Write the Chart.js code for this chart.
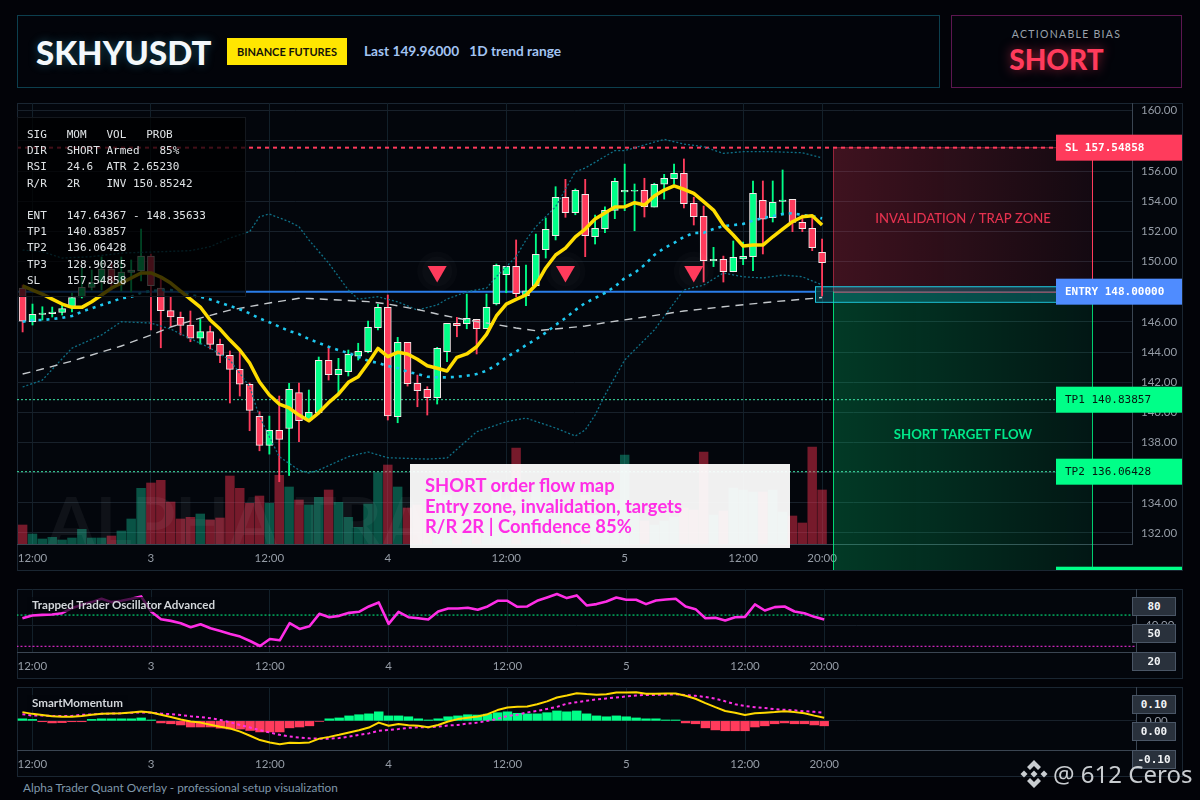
<!DOCTYPE html>
<html>
<head>
<meta charset="utf-8">
<title>SKHYUSDT</title>
<script src="https://cdn.jsdelivr.net/npm/chart.js@4"></script>
<style>
  html, body { margin: 0; padding: 0; background: #020308; }
  body { position: relative; width: 1200px; height: 800px; overflow: hidden; font-family: Lato, sans-serif; color: #ccc; }
  .abs { position: absolute; white-space: pre; }
  .frame { position: absolute; box-sizing: border-box; background: #03060c; border: 1px solid #1a2632; }
  canvas { position: absolute; display: block; }
  .tag { position: absolute; box-sizing: border-box; left: 1132px; width: 44px; height: 19px; background: #29313c; border: 1px solid #4a5666; color: #f2f4f6; font: bold 11px/17px "DejaVu Sans Mono", monospace; text-align: center; }
  .plabel { position: absolute; left: 27px; padding: 0 5px; height: 15px; background: rgba(3, 6, 12, 0.7); color: #d2d6da; font: bold 11.6px/15px Lato, sans-serif; white-space: pre; }
</style>
</head>
<body>
<div class="frame" style="left:17px;top:15px;width:923px;height:73px;border-color:#0c3f4e;background:#02040a"></div>
<div class="abs" id="title" style="left:36px;top:29px;font:900 33px/46px Lato,sans-serif;color:#f4f8fb;text-shadow:0 0 10px rgba(70,200,230,.35)">SKHYUSDT</div>
<div class="abs" style="left:227px;top:38px;width:120px;height:27px;background:#ffe600;color:#15130a;font:bold 11px/27px Lato,sans-serif;text-align:center">BINANCE FUTURES</div>
<div class="abs" style="left:364px;top:42px;color:#a3c4f3;font:bold 13.7px/18px Lato,sans-serif">Last 149.96000   1D trend range</div>
<div class="frame" style="left:951px;top:15px;width:231px;height:73px;border-color:#5c1650;background:#02040a"></div>
<div class="abs" style="left:951px;width:231px;top:27px;text-align:center;color:#9aa2ac;font:10.5px/14px Lato,sans-serif;letter-spacing:1.3px">ACTIONABLE BIAS</div>
<div class="abs" style="left:951px;width:211px;top:40px;text-align:center;color:#ff3b5c;font:900 28px/38px Lato,sans-serif;text-shadow:0 0 12px rgba(255,59,92,.6)">SHORT</div>

<div class="frame" style="left:17px;top:103px;width:1166px;height:468px"></div>
<canvas id="mainChart" width="1165" height="467" style="left:17px;top:103px;width:1165px;height:467px"></canvas>
<div class="abs" style="left:17px;top:117px;width:229px;height:180px;box-sizing:border-box;padding:9px 0 0 9px;background:rgba(0,0,0,.74);border:1px solid #14181e;color:#dfe3e6;font:11px/16.2px 'DejaVu Sans Mono',monospace">SIG   MOM   VOL   PROB
DIR   SHORT Armed   85%
RSI   24.6  ATR 2.65230
R/R   2R    INV 150.85242

ENT   147.64367 - 148.35633
TP1   140.83857
TP2   136.06428
TP3   128.90285
SL    157.54858</div>
<div class="abs" style="left:410px;top:464px;width:380px;height:84px;background:rgba(255,255,255,.94)"></div>
<div class="abs" style="left:425px;top:475px;color:#ff2ee6;font:bold 18.4px/20.5px Lato,sans-serif">SHORT order flow map
Entry zone, invalidation, targets
R/R 2R | Confidence 85%</div>

<div class="frame" style="left:17px;top:589px;width:1166px;height:90px"></div>
<canvas id="oscChart" width="1165" height="89" style="left:17px;top:589px;width:1165px;height:89px"></canvas>
<div class="plabel" style="top:597px">Trapped Trader Oscillator Advanced</div>
<div class="tag" style="top:597px">80</div>
<div class="tag" style="top:624px">50</div>
<div class="tag" style="top:652px">20</div>

<div class="frame" style="left:17px;top:687px;width:1166px;height:90px"></div>
<canvas id="momChart" width="1165" height="89" style="left:17px;top:687px;width:1165px;height:89px"></canvas>
<div class="plabel" style="top:695px">SmartMomentum</div>
<div class="tag" style="top:695px">0.10</div>
<div class="tag" style="top:722px">0.00</div>
<div class="tag" style="top:750px">-0.10</div>

<div class="abs" style="left:23px;top:780px;color:#7f97aa;font:11.8px/15px Lato,sans-serif">Alpha Trader Quant Overlay - professional setup visualization</div>
<svg class="abs" style="left:1020px;top:760px" width="28" height="28" viewBox="0 0 28 28" fill="#c9cdd1">
  <polygon points="14,0 21,7 18,10 14,6 10,10 7,7"/>
  <polygon points="14,28 21,21 18,18 14,22 10,18 7,21"/>
  <polygon points="4,10.5 7.5,14 4,17.5 0.5,14"/>
  <polygon points="24,10.5 27.5,14 24,17.5 20.5,14"/>
  <polygon points="14,10.5 17.5,14 14,17.5 10.5,14"/>
</svg>
<div class="abs" style="left:1053px;top:757px;color:#c9cdd1;font:24px/34px 'Noto Sans',sans-serif">@ 612 Ceros</div>

<script>
// candles, one per hour
const opens = [
  148.24, 146.01, 146.49, 146.55, 146.62, 147.02, 147.65, 148.28, 148.61, 149.50,
  148.44, 149.27, 149.37, 150.36, 148.24, 146.74, 146.30, 145.79, 144.91, 145.35,
  144.51, 143.78, 142.85, 141.86, 139.74, 137.81, 138.81, 138.93, 141.31, 139.49,
  139.97, 143.45, 142.49, 142.69, 143.73, 144.02, 145.61, 146.96, 139.71, 144.64,
  141.92, 141.53, 140.97, 144.02, 145.90, 145.88, 146.17, 145.54, 147.18, 149.12,
  149.68, 147.73, 148.40, 150.78, 151.71, 154.26, 153.24, 154.46, 151.64, 152.17,
  153.39, 154.61, 154.67, 154.72, 153.61, 155.12, 155.49, 155.85, 153.86, 152.99,
  150.05, 150.15, 149.32, 150.18, 150.32, 154.06, 152.90, 153.99, 154.12, 152.60,
  152.20, 150.61,
]
const highs = [
  148.44, 147.18, 147.00, 146.98, 147.12, 147.91, 149.57, 149.44, 150.30, 149.97,
  150.30, 150.10, 152.15, 150.50, 148.97, 147.66, 146.65, 146.72, 146.19, 145.72,
  144.86, 144.07, 144.02, 141.94, 140.04, 139.75, 141.08, 141.92, 141.94, 141.48,
  143.67, 144.31, 143.58, 144.13, 144.58, 146.05, 147.18, 147.78, 144.97, 144.64,
  142.47, 141.70, 144.31, 145.90, 146.30, 147.84, 146.17, 147.84, 149.83, 149.68,
  151.43, 149.77, 151.82, 152.88, 154.96, 155.45, 154.81, 155.45, 153.08, 153.63,
  155.52, 156.46, 155.14, 155.52, 155.19, 155.78, 156.46, 156.80, 154.26, 153.68,
  150.94, 150.36, 151.36, 151.29, 155.34, 155.34, 155.34, 156.07, 154.12, 153.08,
  152.97, 151.49,
]
const lows = [
  145.33, 145.79, 146.12, 146.32, 146.45, 146.65, 147.58, 148.11, 148.11, 148.11,
  148.04, 147.98, 148.71, 145.46, 144.28, 145.72, 145.13, 144.68, 144.53, 144.20,
  143.29, 140.62, 141.08, 138.78, 137.45, 137.23, 135.40, 135.81, 138.05, 139.49,
  139.97, 142.14, 141.26, 142.41, 143.47, 143.95, 145.46, 139.49, 139.31, 141.74,
  140.37, 139.82, 140.55, 143.36, 145.01, 145.54, 143.87, 145.54, 147.12, 147.93,
  147.67, 147.07, 148.40, 150.23, 151.43, 152.93, 153.10, 150.32, 151.16, 151.91,
  152.84, 153.37, 152.04, 152.95, 153.61, 154.14, 155.12, 153.55, 152.42, 148.64,
  149.66, 148.64, 149.32, 149.79, 149.39, 150.50, 152.62, 153.08, 151.98, 151.98,
  150.72, 147.71,
]
const closes = [
  146.05, 146.50, 146.58, 146.65, 146.88, 147.61, 148.28, 148.61, 149.50, 148.61,
  149.30, 149.44, 150.36, 148.40, 146.74, 146.32, 145.77, 144.91, 145.35, 144.51,
  143.78, 142.85, 141.86, 140.13, 137.81, 138.81, 138.21, 141.53, 139.44, 140.00,
  143.45, 142.49, 142.85, 143.85, 144.05, 145.64, 146.96, 139.77, 144.64, 141.90,
  141.43, 140.97, 144.24, 145.90, 145.74, 146.23, 145.54, 146.96, 149.75, 149.68,
  147.86, 148.06, 150.48, 152.13, 154.26, 153.24, 154.72, 151.71, 152.20, 153.39,
  155.32, 154.72, 154.72, 153.63, 155.12, 155.52, 155.85, 153.83, 152.97, 150.05,
  150.15, 149.32, 150.28, 150.34, 154.52, 152.80, 153.93, 154.08, 152.60, 152.18,
  150.91, 149.92,
]
const volumes = [
  19, 10, 5, 6.7, 4, 6, 14.7, 6, 6, 8,
  13, 25, 55.7, 61, 63.7, 42, 25, 26.7, 30, 24,
  26, 68, 55.7, 40.7, 48, 40.7, 68.7, 57, 44, 39,
  46.7, 54, 41.7, 26.7, 16.7, 40, 71.3, 79, 57, 36,
  39, 34, 54, 49, 34, 29, 34, 39, 64, 44,
  96, 44, 54, 39, 54, 39, 34, 49, 29, 34,
  44, 89, 34, 23, 19, 23, 27, 36, 34, 92,
  29, 33, 56, 54, 52, 52, 54, 32, 28, 21,
  97, 54,
]
const fastMa = [
  148.38, 148.11, 147.84, 147.51, 147.18, 146.96, 146.96, 147.33, 147.78, 148.24,
  148.57, 148.91, 149.24, 149.24, 148.97, 148.57, 148.04, 147.51, 146.98, 146.12,
  145.52, 144.79, 144.13, 143.27, 142.01, 141.15, 140.55, 140.29, 139.82, 139.44,
  139.97, 140.64, 141.21, 141.99, 142.36, 143.25, 144.24, 143.69, 143.98, 143.87,
  143.52, 143.09, 142.92, 142.74, 143.65, 143.87, 144.35, 145.17, 146.39, 147.18,
  147.49, 147.78, 148.44, 149.57, 150.43, 150.89, 151.63, 152.15, 152.82, 153.22,
  153.61, 153.63, 153.90, 153.75, 154.34, 154.74, 155.01, 154.79, 154.52, 153.97,
  153.41, 152.42, 151.76, 151.03, 151.09, 151.09, 151.64, 152.15, 152.64, 152.97,
  153.04, 152.42,
]
const midMa = [
  146.01, 146.12, 146.12, 146.19, 146.27, 146.39, 146.67, 146.90, 147.12, 147.33,
  147.56, 147.66, 147.93, 148.04, 148.11, 148.11, 147.99, 147.78, 147.66, 147.49,
  147.27, 147.05, 146.83, 146.56, 146.23, 145.97, 145.68, 145.39, 145.19, 144.86,
  144.60, 144.35, 144.13, 143.93, 143.69, 143.42, 143.27, 143.07, 142.94, 142.69,
  142.54, 142.36, 142.32, 142.32, 142.36, 142.43, 142.54, 142.76, 143.14, 143.65,
  144.02, 144.46, 144.84, 145.28, 145.79, 146.25, 146.78, 147.25, 147.58, 147.91,
  148.33, 148.91, 149.24, 149.77, 150.43, 150.89, 151.23, 151.63, 151.89, 151.91,
  152.15, 152.35, 152.42, 152.49, 152.71, 152.88, 153.01, 153.15, 153.20, 153.08,
  153.01, 152.86,
]
// these three were read at the hours where the curve bends
const slowHours = [0, 2, 5, 6, 8, 10, 13, 15, 18, 21, 25, 28, 29, 32, 35, 37, 40, 42, 45, 48, 50, 52, 55, 57, 59, 63, 67, 71, 76, 81]
const slowMa = [142.54, 142.87, 143.40, 143.60, 144.00, 144.40, 145.13, 145.66, 146.25, 146.78, 147.25, 147.56, 147.55, 147.45, 147.34, 147.18, 146.82, 146.52, 146.12, 145.82, 145.59, 145.41, 145.59, 145.72, 145.94, 146.32, 146.72, 147.00, 147.33, 147.61]
const upperHours = [0, 2, 4, 7, 10, 14, 17, 19, 21, 23, 24, 25, 27, 28, 29, 31, 33, 34, 36, 38, 40, 42, 43, 45, 47, 48, 50, 51, 52, 54, 56, 57, 60, 61, 63, 65, 67, 69, 71, 73, 76, 79, 81]
const upperBand = [150.76, 150.65, 150.23, 150.32, 150.56, 150.65, 150.72, 150.98, 151.56, 151.98, 152.97, 153.15, 152.64, 152.31, 151.43, 149.90, 148.11, 147.51, 147.67, 147.33, 146.78, 147.12, 147.51, 147.99, 148.24, 148.99, 150.32, 151.43, 152.31, 153.63, 155.95, 156.20, 157.35, 157.35, 157.73, 158.10, 157.79, 157.61, 157.17, 157.28, 157.28, 157.21, 156.88]
const lowerHours = [0, 2, 5, 8, 10, 13, 15, 19, 21, 23, 24, 26, 28, 29, 30, 33, 35, 37, 41, 43, 46, 49, 51, 54, 56, 57, 58, 59, 61, 64, 66, 67, 69, 71, 73, 75, 77, 79, 81]
const lowerBand = [141.68, 142.14, 144.26, 145.13, 146.01, 145.92, 145.52, 144.26, 143.47, 141.70, 139.71, 137.06, 136.17, 135.98, 136.17, 137.06, 137.37, 136.99, 136.90, 136.97, 138.71, 139.38, 139.62, 138.96, 138.43, 138.83, 139.82, 141.15, 143.47, 145.46, 147.25, 148.11, 148.44, 149.24, 148.99, 148.91, 149.10, 148.99, 148.44]
const signalHours = [42, 55, 68]
const signalPrice = [149.34, 149.34, 149.34]

const oscillator = [
  46.63, 49.17, 49.81, 50.12, 51.39, 56.15, 59.33, 61.87, 65.05, 61.87,
  63.14, 65.05, 67.27, 52.98, 45.68, 44.09, 41.87, 38.06, 40.92, 37.11,
  34.56, 31.71, 29.17, 25.04, 20.28, 26.95, 25.67, 41.87, 36.47, 39.01,
  50.76, 47.58, 48.85, 51.71, 52.66, 57.74, 61.55, 41.23, 52.66, 47.58,
  46.63, 45.36, 52.98, 55.84, 55.84, 56.47, 54.57, 57.74, 63.14, 63.14,
  57.42, 57.74, 63.14, 66.31, 69.49, 65.68, 68.22, 58.70, 59.97, 62.51,
  66.31, 64.09, 64.09, 59.97, 63.46, 64.41, 65.05, 57.74, 55.20, 46.63,
  46.95, 44.41, 47.58, 47.90, 59.65, 53.93, 57.11, 57.74, 52.98, 51.39,
  47.90, 45.36,
]
const momHist = [
  0.007, 0.005, -0.003, -0.007, -0.006, -0.003, -0.003, 0.005, 0.007, 0.007,
  0.007, 0.007, 0.010, 0.003, -0.007, -0.010, -0.014, -0.021, -0.021, -0.021,
  -0.025, -0.028, -0.028, -0.033, -0.038, -0.038, -0.038, -0.024, -0.021, -0.017,
  -0.002, 0.007, 0.010, 0.017, 0.021, 0.024, 0.031, 0.017, 0.017, 0.014,
  0.007, 0.003, 0.007, 0.014, 0.017, 0.021, 0.020, 0.023, 0.028, 0.031,
  0.026, 0.024, 0.024, 0.028, 0.034, 0.031, 0.034, 0.024, 0.017, 0.014,
  0.017, 0.014, 0.010, 0.007, 0.007, 0.003, 0.003, -0.007, -0.010, -0.024,
  -0.031, -0.034, -0.034, -0.034, -0.021, -0.017, -0.010, -0.007, -0.010, -0.010,
  -0.014, -0.017,
]
const momLine = [
  0.030, 0.024, 0.020, 0.016, 0.014, 0.014, 0.017, 0.021, 0.024, 0.025,
  0.026, 0.029, 0.032, 0.029, 0.021, 0.013, 0.005, -0.002, -0.006, -0.013,
  -0.020, -0.026, -0.037, -0.051, -0.066, -0.074, -0.080, -0.075, -0.076, -0.074,
  -0.061, -0.055, -0.048, -0.040, -0.032, -0.023, -0.006, -0.017, -0.011, -0.015,
  -0.017, -0.022, -0.014, -0.002, 0.006, 0.011, 0.015, 0.023, 0.037, 0.046,
  0.048, 0.049, 0.057, 0.067, 0.080, 0.087, 0.095, 0.092, 0.090, 0.091,
  0.097, 0.097, 0.098, 0.093, 0.093, 0.094, 0.094, 0.086, 0.076, 0.061,
  0.047, 0.034, 0.028, 0.020, 0.026, 0.028, 0.030, 0.033, 0.030, 0.026,
  0.018, 0.011,
]
const momSignal = [
  0.023, 0.018, 0.018, 0.017, 0.017, 0.017, 0.021, 0.022, 0.024, 0.025,
  0.026, 0.028, 0.029, 0.028, 0.025, 0.023, 0.020, 0.016, 0.013, 0.009,
  0.003, -0.005, -0.014, -0.023, -0.032, -0.040, -0.048, -0.054, -0.057, -0.060,
  -0.061, -0.061, -0.059, -0.054, -0.048, -0.043, -0.034, -0.031, -0.028, -0.024,
  -0.022, -0.022, -0.020, -0.016, -0.014, -0.009, -0.006, 0, 0.007, 0.017,
  0.021, 0.029, 0.034, 0.041, 0.048, 0.059, 0.064, 0.069, 0.074, 0.077,
  0.080, 0.084, 0.087, 0.089, 0.089, 0.090, 0.091, 0.089, 0.086, 0.082,
  0.076, 0.067, 0.057, 0.051, 0.047, 0.044, 0.040, 0.038, 0.036, 0.033,
  0.031, 0.028,
]

const timeTickHours = [1, 13, 25, 37, 49, 61, 73, 81]
const timeTickLabels = ['12:00', '3', '12:00', '4', '12:00', '5', '12:00', '20:00']
const priceTicks = [132, 134, 136, 138, 140, 142, 144, 146, 148, 150, 152, 154, 156, 158, 160]

const sl = 157.54858
const entry = 148
const entryBoxTop = 148.36
const entryBoxBottom = 147.33
const tp1 = 140.83857
const tp2 = 136.06428
const tp3 = 128.90285

const GREEN = '#00ff88'
const RED = '#ff3b5c'
const GRID = '#18212b'
const TICK = '#959ca6'
const TICK_FONT = { family: 'Lato, sans-serif', size: 11.5 }

const hours = closes.map((_, i) => i)
const pairs = (xs, ys) => xs.map((x, i) => ({ x, y: ys[i] }))

// keep the plot area fixed, no room reserved for half labels
function noPadding(s) {
  s.paddingLeft = s.paddingRight = s.paddingTop = s.paddingBottom = 0
}

function timeAxis(min, max, height) {
  return {
    type: 'linear',
    min,
    max,
    offset: false,
    afterFit: (s) => { s.height = height; noPadding(s) },
    afterBuildTicks: (s) => { s.ticks = timeTickHours.map((value) => ({ value })) },
    border: { color: '#3a4552', width: 1 },
    grid: { color: '#12202a', drawTicks: false, offset: false },
    ticks: {
      autoSkip: false, maxRotation: 0, padding: 7, color: TICK, font: TICK_FONT,
      callback: (v) => timeTickLabels[timeTickHours.indexOf(v)],
    },
  }
}

function valueAxis(min, max, width, ticks, decimals) {
  return {
    position: 'right',
    min,
    max,
    afterFit: (s) => { s.width = width; noPadding(s) },
    afterBuildTicks: (s) => { s.ticks = ticks.map((value) => ({ value })) },
    border: { color: '#3a4552', width: 1 },
    grid: { color: GRID, drawTicks: false },
    ticks: { padding: 9, color: TICK, font: TICK_FONT, callback: (v) => v.toFixed(decimals) },
  }
}

function line(data, color, width, dash, order) {
  return { type: 'line', data, borderColor: color, borderWidth: width, borderDash: dash, pointRadius: 0, tension: 0, fill: false, order, borderJoinStyle: 'round' }
}

// levels and zones sit under the candles, tags and zone text on top
const tradeLevels = {
  id: 'tradeLevels',
  beforeDatasetsDraw(chart) {
    const { ctx, scales: { y }, chartArea: a } = chart
    const ox = 17
    const zl = 833 - ox, zr = 1092 - ox, tagL = 1056 - ox
    const ySl = y.getPixelForValue(sl), yE = y.getPixelForValue(entry)
    const yT1 = y.getPixelForValue(tp1), yT2 = y.getPixelForValue(tp2)
    ctx.save()
    let g = ctx.createLinearGradient(zl, 0, zr, 0)
    g.addColorStop(0, 'rgba(255,59,92,.24)')
    g.addColorStop(1, 'rgba(255,59,92,.07)')
    ctx.fillStyle = g
    ctx.fillRect(zl, ySl, zr - zl, yE - ySl)
    g = ctx.createLinearGradient(zl, 0, zr, 0)
    g.addColorStop(0, 'rgba(0,255,136,.21)')
    g.addColorStop(1, 'rgba(0,255,136,.07)')
    ctx.fillStyle = g
    ctx.fillRect(zl, yE, zr - zl, 467 - yE)
    ctx.lineWidth = 1
    ctx.strokeStyle = 'rgba(255,59,92,.45)'
    ctx.beginPath(); ctx.moveTo(zl + 0.5, yE); ctx.lineTo(zl + 0.5, ySl); ctx.lineTo(zr, ySl); ctx.stroke()
    ctx.strokeStyle = RED
    ctx.beginPath(); ctx.moveTo(zr + 0.5, ySl); ctx.lineTo(zr + 0.5, yE); ctx.moveTo(zl, yE + 0.5); ctx.lineTo(tagL, yE + 0.5); ctx.stroke()
    ctx.strokeStyle = 'rgba(0,255,136,.8)'
    ctx.beginPath(); ctx.moveTo(zl + 0.5, yE); ctx.lineTo(zl + 0.5, 467); ctx.moveTo(zr + 0.5, yE); ctx.lineTo(zr + 0.5, 467); ctx.stroke()
    const bt = y.getPixelForValue(entryBoxTop), bb = y.getPixelForValue(entryBoxBottom)
    ctx.fillStyle = 'rgba(20,190,210,.26)'
    ctx.fillRect(815 - ox, bt, tagL - (815 - ox), bb - bt)
    ctx.strokeStyle = '#1ec8e0'
    ctx.strokeRect(815 - ox + 0.5, bt + 0.5, tagL - (815 - ox), bb - bt)
    ctx.lineWidth = 2
    ctx.strokeStyle = '#2a7de8'
    ctx.beginPath(); ctx.moveTo(a.left, yE); ctx.lineTo(815 - ox, yE); ctx.stroke()
    ctx.strokeStyle = RED
    ctx.setLineDash([4, 4])
    ctx.beginPath(); ctx.moveTo(a.left, ySl); ctx.lineTo(tagL, ySl); ctx.stroke()
    ctx.lineWidth = 1
    ctx.strokeStyle = '#3fe6a8'
    ctx.setLineDash([2, 2])
    ctx.beginPath(); ctx.moveTo(a.left, yT1); ctx.lineTo(tagL, yT1); ctx.moveTo(a.left, yT2); ctx.lineTo(tagL, yT2); ctx.stroke()
    ctx.restore()
  },
  afterDatasetsDraw(chart) {
    const { ctx, scales: { y } } = chart
    const ox = 17
    ctx.save()
    ctx.font = 'bold 70px Lato, sans-serif'
    ctx.fillStyle = 'rgba(255,255,255,.05)'
    ctx.textBaseline = 'alphabetic'
    ctx.save()
    ctx.beginPath(); ctx.rect(0, 0, 1115, 441); ctx.clip()
    ctx.fillText('ALPHA TRADER', 30, 445)
    ctx.restore()

    ctx.textBaseline = 'middle'
    ctx.textAlign = 'center'
    ctx.font = '500 13.1px Lato, sans-serif'
    ctx.fillStyle = '#e4324f'
    ctx.fillText('INVALIDATION / TRAP ZONE', 963 - ox, 219 - 103)
    ctx.font = 'bold 13.2px Lato, sans-serif'
    ctx.fillStyle = '#00e88a'
    ctx.fillText('SHORT TARGET FLOW', 963 - ox, 435 - 103)

    ctx.textAlign = 'left'
    const tags = [
      [`SL ${sl.toFixed(5)}`, sl, RED, '#ffffff', 'bold'],
      [`ENTRY ${entry.toFixed(5)}`, entry, '#4f8cff', '#ffffff', 'bold'],
      [`TP1 ${tp1.toFixed(5)}`, tp1, GREEN, '#05170f', 'normal'],
      [`TP2 ${tp2.toFixed(5)}`, tp2, GREEN, '#05170f', 'normal'],
      [`TP3 ${tp3.toFixed(5)}`, tp3, GREEN, '#05170f', 'normal'],
    ]
    tags.forEach(([text, value, bg, fg, weight]) => {
      const py = y.getPixelForValue(value)
      ctx.fillStyle = bg
      ctx.fillRect(1056 - ox, py - 13, 126, 26)
      ctx.fillStyle = fg
      ctx.font = `${weight} 11px "DejaVu Sans Mono", monospace`
      ctx.fillText(text, 1065 - ox, py)
    })
    ctx.restore()
  },
}

new Chart(document.getElementById('mainChart'), {
  data: {
    datasets: [
      { type: 'scatter', data: pairs(signalHours, signalPrice), pointStyle: 'circle', pointRadius: 20, backgroundColor: 'rgba(255,255,255,.018)', borderWidth: 0, order: 1 },
      { type: 'scatter', data: pairs(signalHours, signalPrice), pointStyle: 'circle', pointRadius: 15, backgroundColor: 'rgba(255,255,255,.02)', borderWidth: 0, order: 1 },
      { type: 'scatter', data: pairs(signalHours, signalPrice), pointStyle: 'triangle', rotation: 180, pointRadius: 11, backgroundColor: RED, borderWidth: 0, order: 0 },
      line(pairs(hours, fastMa), '#ffdd00', 3.5, [], 2),
      line(pairs(hours, midMa), '#1ec8f0', 2.6, [3, 5], 3),
      line(pairs(slowHours, slowMa), '#c4c8cc', 1.4, [8, 6], 4),
      line(pairs(upperHours, upperBand), '#0f6f86', 1.3, [2, 2], 5),
      line(pairs(lowerHours, lowerBand), '#0f6f86', 1.3, [2, 2], 5),
      {
        type: 'bar', data: hours.map((h) => ({ x: h, y: [Math.min(opens[h], closes[h]), Math.max(opens[h], closes[h])] })),
        backgroundColor: hours.map((h) => (closes[h] >= opens[h] ? GREEN : RED)),
        borderColor: '#f3e8e8', borderWidth: 1, borderSkipped: false, barThickness: 7, grouped: false, order: 6,
      },
      {
        type: 'bar', data: hours.map((h) => ({ x: h, y: [lows[h], highs[h]] })),
        backgroundColor: hours.map((h) => (closes[h] >= opens[h] ? GREEN : RED)),
        borderWidth: 0, barThickness: 1.2, grouped: false, order: 7,
      },
      {
        type: 'bar', yAxisID: 'vol', data: pairs(hours, volumes),
        backgroundColor: hours.map((h) => (closes[h] >= opens[h] ? 'rgba(20,190,150,.42)' : 'rgba(255,50,80,.46)')),
        borderWidth: 0, barThickness: 8.8, grouped: false, order: 8,
      },
    ],
  },
  options: {
    responsive: false,
    animation: false,
    layout: { padding: 0, autoPadding: false },
    plugins: { legend: { display: false }, tooltip: { enabled: false } },
    scales: {
      x: timeAxis(-0.57, 112.4, 26),
      y: valueAxis(131.27, 160.51, 50, priceTicks, 2),
      vol: { display: false, min: 0, max: 441, position: 'left' },
    },
  },
  plugins: [tradeLevels],
})

new Chart(document.getElementById('oscChart'), {
  data: {
    datasets: [
      line(pairs(hours, oscillator), '#ff2ee6', 2.6, [], 0),
      line(pairs([-1, 113], [49.6, 49.6]), GREEN, 1, [2, 2], 1),
      line(pairs([-1, 113], [20, 20]), '#ff2ee6', 1, [2, 2], 1),
    ],
  },
  options: {
    responsive: false,
    animation: false,
    layout: { padding: 0, autoPadding: false },
    plugins: { legend: { display: false }, tooltip: { enabled: false } },
    scales: {
      x: timeAxis(-0.545, 112.5, 25.7),
      y: valueAxis(14.3, 74.3, 46, [40], 2),
    },
  },
})

new Chart(document.getElementById('momChart'), {
  data: {
    datasets: [
      line(pairs(hours, momLine), '#ffd900', 2, [], 0),
      line(pairs(hours, momSignal), '#ff2ee6', 2, [3, 3], 1),
      {
        type: 'bar', data: pairs(hours, momHist),
        backgroundColor: momHist.map((v) => (v >= 0 ? GREEN : RED)),
        borderWidth: 0, barThickness: 8.8, grouped: false, order: 2,
      },
    ],
  },
  options: {
    responsive: false,
    animation: false,
    layout: { padding: 0, autoPadding: false },
    plugins: { legend: { display: false }, tooltip: { enabled: false } },
    scales: {
      x: timeAxis(-0.545, 112.5, 26),
      y: valueAxis(-0.1, 0.1162, 46, [0], 2),
    },
  },
})
</script>
</body>
</html>
